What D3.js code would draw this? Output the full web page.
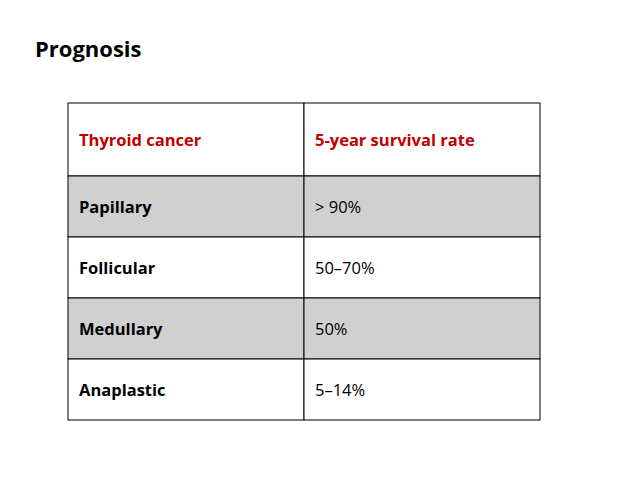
<!DOCTYPE html>
<html><head><meta charset="utf-8">
<script src="https://cdn.jsdelivr.net/npm/d3@7"></script>
<style>body{margin:0;background:#fff}</style>
</head><body>
<script>
const title = "Prognosis";
const headers = ["Thyroid cancer", "5-year survival rate"];
const cancerTypes = ["Papillary", "Follicular", "Medullary", "Anaplastic"];
const survivalRates = ["> 90%", "50–70%", "50%", "5–14%"];

const W = 638, H = 478;
const font = "'Open Sans', 'Noto Sans', sans-serif";
const svg = d3.select("body").append("svg").attr("width", W).attr("height", H);

svg.append("text").attr("x", 35).attr("y", 57).text(title)
  .attr("font-family", font).attr("font-weight", "bold").attr("font-size", 22).attr("fill", "#000");

const x = d3.scaleBand().domain([0, 1]).range([68, 540]).padding(0);
const headerTop = 103, headerBottom = 176;
const y = d3.scaleBand().domain(cancerTypes).range([headerBottom, 420]).padding(0);

const g = svg.append("g");
// header
g.selectAll("rect.h").data(headers).join("rect")
  .attr("x", (d, i) => x(i)).attr("y", headerTop)
  .attr("width", x.bandwidth()).attr("height", headerBottom - headerTop)
  .attr("fill", "#fff").attr("stroke", "#000").attr("stroke-width", 1);
g.selectAll("text.h").data(headers).join("text")
  .attr("x", (d, i) => x(i) + 11).attr("y", (headerTop + headerBottom) / 2 + 6)
  .text(d => d).attr("font-family", font).attr("font-weight", "bold")
  .attr("font-size", 16.5).attr("fill", "#C00000");

// body
const rows = cancerTypes.map((t, i) => ({ type: t, rate: survivalRates[i], i }));
const rg = g.selectAll("g.row").data(rows).join("g").attr("transform", d => `translate(0,${y(d.type)})`);
[0, 1].forEach(c => {
  rg.append("rect").attr("x", x(c)).attr("y", 0)
    .attr("width", x.bandwidth()).attr("height", y.bandwidth())
    .attr("fill", d => d.i % 2 === 0 ? "#D0D0D0" : "#fff")
    .attr("stroke", "#000").attr("stroke-width", 1);
  rg.append("text").attr("x", x(c) + 11).attr("y", y.bandwidth() / 2 + 6)
    .text(d => c === 0 ? d.type : d.rate)
    .attr("font-family", font).attr("font-weight", c === 0 ? "bold" : "normal")
    .attr("font-size", 16.5).attr("fill", "#000");
});
</script>
</body></html>
